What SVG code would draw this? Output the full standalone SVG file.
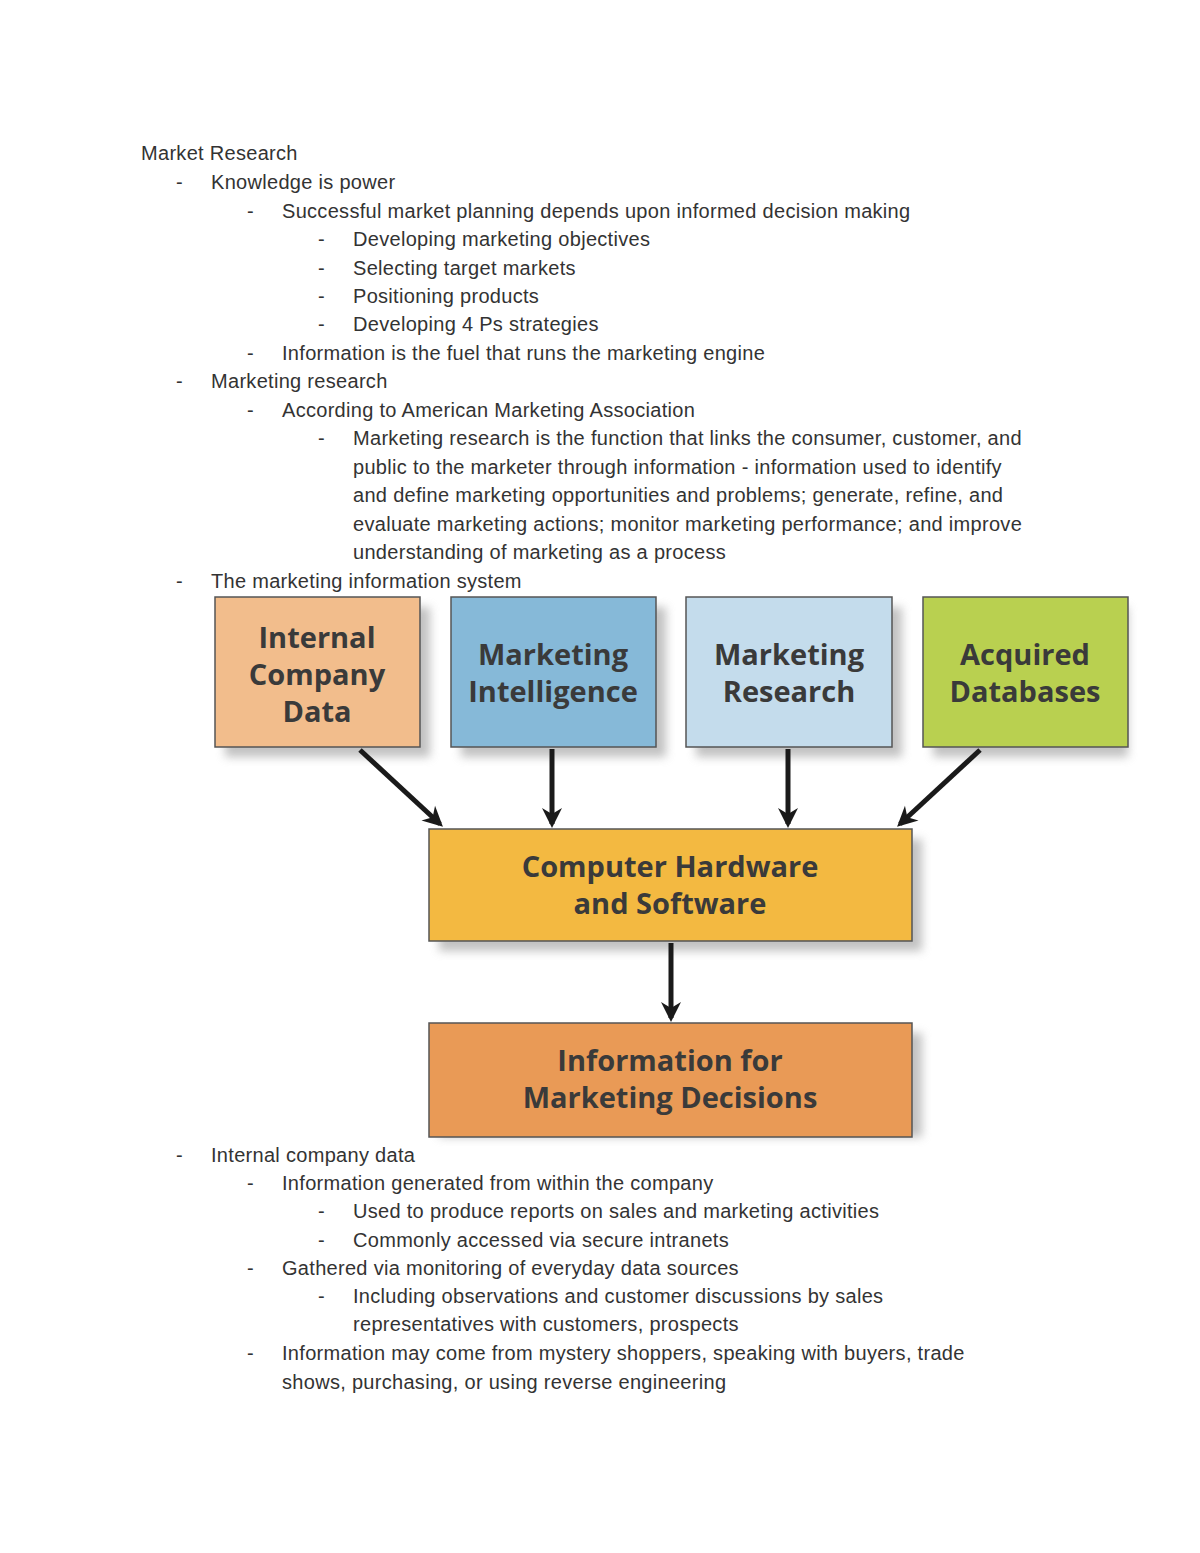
<svg xmlns="http://www.w3.org/2000/svg" width="1200" height="1553" viewBox="0 0 1200 1553">
<style>
.t{font-family:"Liberation Sans",Arial,sans-serif;font-size:20px;fill:#333;letter-spacing:0.3px}
.b{font-family:"Open Sans","Liberation Sans",sans-serif;font-weight:bold;font-size:29px;fill:#3a3a3a;text-anchor:middle}
.box{stroke:#555;stroke-width:1.5}
.c{stroke:#1a1a1a;stroke-width:5;fill:none;marker-end:url(#ah)}
</style>
<defs>
<marker id="ah" viewBox="0 0 10 10" refX="8" refY="5" markerWidth="4" markerHeight="4.5" orient="auto"><path d="M0,0 L10,5 L0,10 L3,5 z" fill="#1a1a1a"/></marker>
<filter id="sh" x="-10%" y="-10%" width="130%" height="140%"><feGaussianBlur stdDeviation="5"/></filter>
</defs>
<rect width="1200" height="1553" fill="#fff"/>
<g id="text1">
<text class="t" x="141" y="160">Market Research</text>
<text class="t" x="176" y="189">-</text><text class="t" x="211" y="189">Knowledge is power</text>
<text class="t" x="247" y="218">-</text><text class="t" x="282" y="218">Successful market planning depends upon informed decision making</text>
<text class="t" x="318" y="246">-</text><text class="t" x="353" y="246">Developing marketing objectives</text>
<text class="t" x="318" y="275">-</text><text class="t" x="353" y="275">Selecting target markets</text>
<text class="t" x="318" y="303">-</text><text class="t" x="353" y="303">Positioning products</text>
<text class="t" x="318" y="331">-</text><text class="t" x="353" y="331">Developing 4 Ps strategies</text>
<text class="t" x="247" y="360">-</text><text class="t" x="282" y="360">Information is the fuel that runs the marketing engine</text>
<text class="t" x="176" y="388">-</text><text class="t" x="211" y="388">Marketing research</text>
<text class="t" x="247" y="417">-</text><text class="t" x="282" y="417">According to American Marketing Association</text>
<text class="t" x="318" y="445">-</text><text class="t" x="353" y="445">Marketing research is the function that links the consumer, customer, and</text>
<text class="t" x="353" y="474">public to the marketer through information - information used to identify</text>
<text class="t" x="353" y="502">and define marketing opportunities and problems; generate, refine, and</text>
<text class="t" x="353" y="531">evaluate marketing actions; monitor marketing performance; and improve</text>
<text class="t" x="353" y="559">understanding of marketing as a process</text>
<text class="t" x="176" y="588">-</text><text class="t" x="211" y="588">The marketing information system</text>
</g>
<g id="shadows" fill="#999" opacity="0.6" filter="url(#sh)">
<rect x="225" y="607" width="205" height="150"/><rect x="461" y="607" width="205" height="150"/>
<rect x="696" y="607" width="206" height="150"/><rect x="933" y="607" width="195" height="150"/>
<rect x="439" y="839" width="483" height="112"/><rect x="439" y="1033" width="483" height="104"/>
</g>
<g id="internal"><rect class="box" x="215" y="597" width="205" height="150" fill="#f2bd8c"/>
<text class="b" x="317" y="648">Internal</text><text class="b" x="317" y="685">Company</text><text class="b" x="317" y="722">Data</text></g>
<g id="intelligence"><rect class="box" x="451" y="597" width="205" height="150" fill="#86b9d8"/>
<text class="b" x="553" y="665">Marketing</text><text class="b" x="553" y="702">Intelligence</text></g>
<g id="research"><rect class="box" x="686" y="597" width="206" height="150" fill="#c4dcec"/>
<text class="b" x="789" y="665">Marketing</text><text class="b" x="789" y="702">Research</text></g>
<g id="databases"><rect class="box" x="923" y="597" width="205" height="150" fill="#b9d050"/>
<text class="b" x="1025" y="665">Acquired</text><text class="b" x="1025" y="702">Databases</text></g>
<g id="computer"><rect class="box" x="429" y="829" width="483" height="112" fill="#f3b941"/>
<text class="b" x="670" y="877">Computer Hardware</text><text class="b" x="670" y="914">and Software</text></g>
<g id="info"><rect class="box" x="429" y="1023" width="483" height="114" fill="#e99a56"/>
<text class="b" x="670" y="1071">Information for</text><text class="b" x="670" y="1108">Marketing Decisions</text></g>
<g id="connectors">
<line class="c" x1="360" y1="750" x2="440" y2="824"/>
<line class="c" x1="552" y1="749" x2="552" y2="824"/>
<line class="c" x1="788" y1="749" x2="788" y2="824"/>
<line class="c" x1="980" y1="750" x2="900" y2="824"/>
<line class="c" x1="671" y1="943" x2="671" y2="1018"/>
</g>
<g id="text2">
<text class="t" x="176" y="1162">-</text><text class="t" x="211" y="1162">Internal company data</text>
<text class="t" x="247" y="1190">-</text><text class="t" x="282" y="1190">Information generated from within the company</text>
<text class="t" x="318" y="1218">-</text><text class="t" x="353" y="1218">Used to produce reports on sales and marketing activities</text>
<text class="t" x="318" y="1247">-</text><text class="t" x="353" y="1247">Commonly accessed via secure intranets</text>
<text class="t" x="247" y="1275">-</text><text class="t" x="282" y="1275">Gathered via monitoring of everyday data sources</text>
<text class="t" x="318" y="1303">-</text><text class="t" x="353" y="1303">Including observations and customer discussions by sales</text>
<text class="t" x="353" y="1331">representatives with customers, prospects</text>
<text class="t" x="247" y="1360">-</text><text class="t" x="282" y="1360">Information may come from mystery shoppers, speaking with buyers, trade</text>
<text class="t" x="282" y="1389">shows, purchasing, or using reverse engineering</text>
</g>
</svg>
